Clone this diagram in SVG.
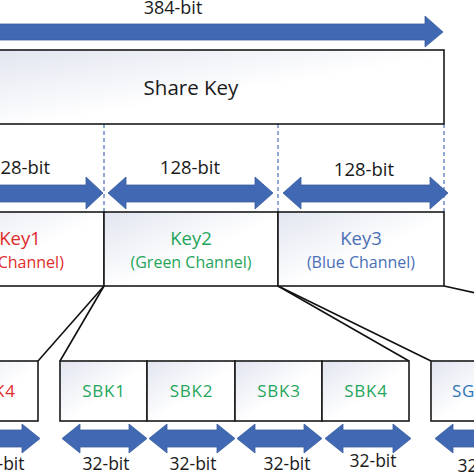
<svg xmlns="http://www.w3.org/2000/svg" width="474" height="474" viewBox="0 0 474 474">
<defs>
<linearGradient id="g" x1="0" y1="0" x2="1" y2="1">
<stop offset="0" stop-color="#e1e5ef"/>
<stop offset="0.55" stop-color="#ffffff"/>
</linearGradient>
<style>
.box{fill:url(#g);stroke:#1a1a1a;stroke-width:1.6}
.arr{fill:#4168b2;stroke:#3a5da0;stroke-width:0.8}
.ln{stroke:#111;stroke-width:1.6;fill:none}
.dash{stroke:#4a6fb5;stroke-width:1.2;stroke-dasharray:4 3;fill:none}
.t{font-family:"Open Sans","Noto Sans",sans-serif;fill:#1a1a1a;text-anchor:middle}
.red{fill:#e02a2a}.grn{fill:#1fa55a}.blu{fill:#4a6fb5}.blu2{fill:#2e75b6}
.sb{font-size:17px;letter-spacing:0.8px}
.b32{font-size:17.5px}
</style>
</defs>
<rect width="474" height="474" fill="#fff"/>
<g id="connectors">
<line class="dash" x1="104" y1="124" x2="104" y2="212"/>
<line class="dash" x1="278" y1="124" x2="278" y2="212"/>
<line class="dash" x1="444" y1="124" x2="444" y2="212"/>
<line class="ln" x1="104" y1="286" x2="38" y2="361"/>
<line class="ln" x1="104" y1="286" x2="60" y2="361"/>
<line class="ln" x1="278" y1="286" x2="409" y2="361"/>
<line class="ln" x1="278" y1="286" x2="431" y2="361"/>
<line class="ln" x1="444" y1="286" x2="476" y2="293"/>
</g>
<g id="arrow384">
<polygon class="arr" points="-10,24 425,24 425,16 443,32 425,47 425,40 -10,40"/>
<text class="t" x="173" y="14" font-size="18">384-bit</text>
</g>
<g id="sharekey">
<rect class="box" x="-10" y="50" width="454" height="74"/>
<text class="t" x="191" y="95" font-size="20.5">Share Key</text>
</g>
<g id="arrows128">
<polygon class="arr" points="-10,185 86,185 86,177 103,193 86,209 86,202 -10,202"/>
<polygon class="arr" points="108,193 126,177 126,185 255,185 255,177 273,193 255,209 255,202 126,202 126,209"/>
<polygon class="arr" points="283,193 301,177 301,185 430,185 430,177 448,193 430,209 430,202 301,202 301,209"/>
<text class="t" x="20" y="174" font-size="18.5">128-bit</text>
<text class="t" x="190" y="174" font-size="18.5">128-bit</text>
<text class="t" x="364" y="176" font-size="18.5">128-bit</text>
</g>
<g id="key1">
<rect class="box" x="-70" y="212" width="174" height="74"/>
<text class="t red" x="20" y="245" font-size="18.5">Key1</text>
<text class="t red" x="12" y="268" font-size="16">(Red Channel)</text>
</g>
<g id="key2">
<rect class="box" x="104" y="212" width="174" height="74"/>
<text class="t grn" x="191" y="245" font-size="18.5">Key2</text>
<text class="t grn" x="191" y="268" font-size="16">(Green Channel)</text>
</g>
<g id="key3">
<rect class="box" x="278" y="212" width="166" height="74"/>
<text class="t blu" x="361" y="245" font-size="18.5">Key3</text>
<text class="t blu" x="361" y="268" font-size="16">(Blue Channel)</text>
</g>
<g id="rk4">
<rect class="box" x="-49" y="361" width="87" height="60"/>
<text class="t red sb" x="-6" y="397">SBK4</text>
</g>
<g id="sbk1">
<rect class="box" x="60" y="361" width="87" height="60"/>
<text class="t grn sb" x="104" y="397">SBK1</text>
</g>
<g id="sbk2">
<rect class="box" x="147" y="361" width="88" height="60"/>
<text class="t grn sb" x="191.5" y="397">SBK2</text>
</g>
<g id="sbk3">
<rect class="box" x="235" y="361" width="87" height="60"/>
<text class="t grn sb" x="279" y="397">SBK3</text>
</g>
<g id="sbk4">
<rect class="box" x="322" y="361" width="87" height="60"/>
<text class="t grn sb" x="366" y="397">SBK4</text>
</g>
<g id="sg1">
<rect class="box" x="431" y="361" width="87" height="60"/>
<text class="t blu2 sb" x="452" y="397" style="text-anchor:start">SG</text>
</g>
<g id="arrows32">
<polygon class="arr" points="-40,430 22,430 22,424 40,438.5 22,453 22,447 -40,447"/>
<polygon class="arr" points="62,438.5 80,424 80,430 129,430 129,424 147,438.5 129,453 129,447 80,447 80,453"/>
<polygon class="arr" points="149,438.5 167,424 167,430 217,430 217,424 235,438.5 217,453 217,447 167,447 167,453"/>
<polygon class="arr" points="237,438.5 255,424 255,430 304,430 304,424 322,438.5 304,453 304,447 255,447 255,453"/>
<polygon class="arr" points="325,438.5 343,424 343,430 393,430 393,424 411,438.5 393,453 393,447 343,447 343,453"/>
<polygon class="arr" points="435,438.5 453,424 453,430 490,430 490,447 453,447 453,453"/>
<text class="t b32" x="1" y="470">32-bit</text>
<text class="t b32" x="106" y="470">32-bit</text>
<text class="t b32" x="193" y="470">32-bit</text>
<text class="t b32" x="287" y="470">32-bit</text>
<text class="t b32" x="373" y="467">32-bit</text>
<text class="t b32" x="481" y="472">32-bit</text>
</g>
</svg>
